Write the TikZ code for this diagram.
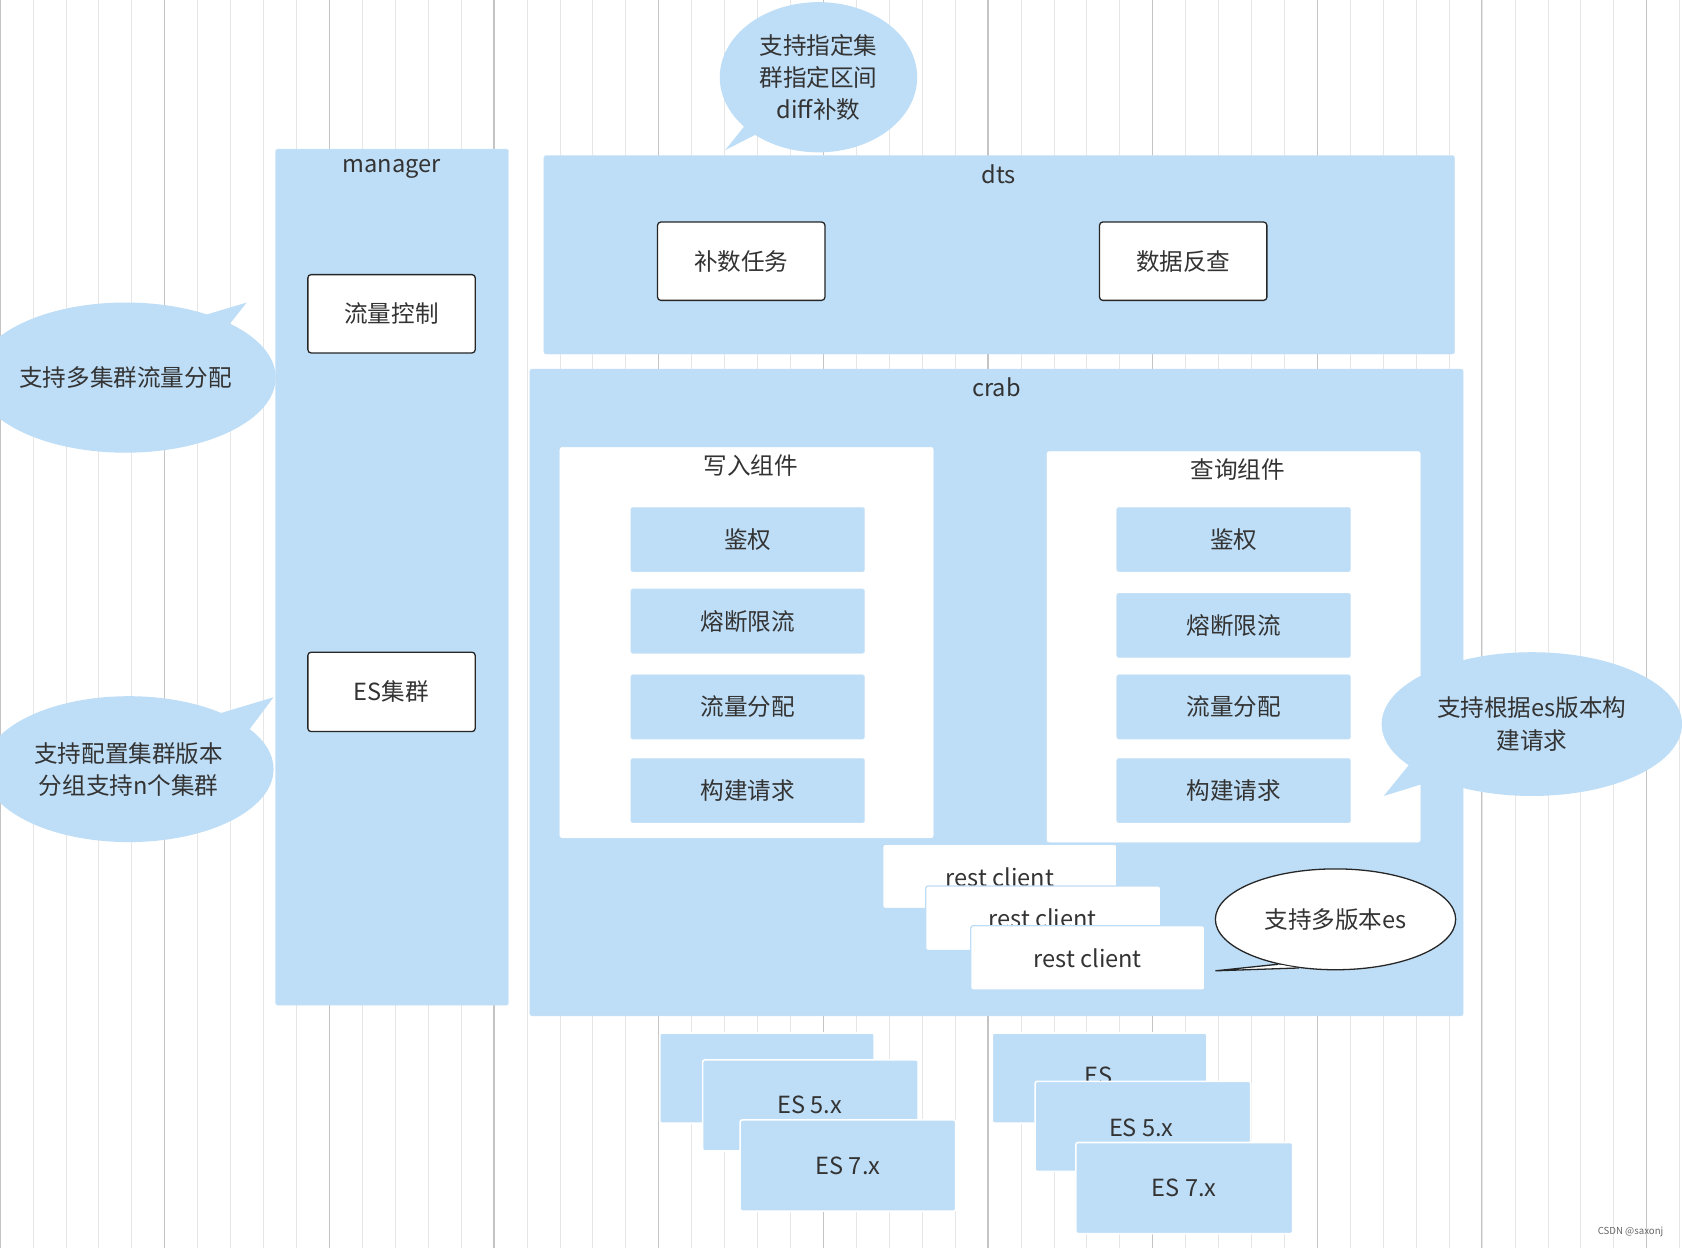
\documentclass[tikz,border=0pt]{standalone}
\usepackage{fontspec}
\setmainfont{Noto Sans CJK SC}
\usetikzlibrary{shapes.geometric}
\definecolor{lb}{HTML}{BEDDF6}
\definecolor{gridc}{HTML}{E6E6E6}
\definecolor{txt}{HTML}{333333}
\tikzset{
 cont/.style={fill=lb,draw=lb!80!white,rounded corners=2pt},
 wbox/.style={fill=white,draw=black!85,line width=1.2pt,rounded corners=3pt},
 pane/.style={fill=white,draw=white,rounded corners=2pt},
 bbox/.style={fill=lb,draw=lb!70!white,rounded corners=2pt},
 esb/.style={fill=lb,draw=white,line width=1.5pt,rounded corners=2pt},
 lbl/.style={text=txt,font=\fontsize{22}{28}\selectfont},
 bub/.style={ellipse,fill=lb,inner sep=0pt,text=txt,align=center,font=\fontsize{22}{30}\selectfont},
}
\begin{document}
\begin{tikzpicture}[x=1pt,y=-1pt]
\useasboundingbox (0,0) rectangle (1568,1163);
\fill[white] (0,0) rectangle (1568,1163);
\draw[gridc,line width=0.6pt] (0,0) grid[step=30.7] (1568,1163);
\draw[gridc!85!black,line width=1pt] (0,0) grid[step=153.5] (1568,1163);
% manager
\draw[cont] (257,139) rectangle (474,937);
\node[lbl] (mgr) at (365,157) {manager};
\draw[wbox] (287,256) rectangle node[lbl] (flk) {流量控制} (443,329);
\draw[wbox] (287,608) rectangle node[lbl] (esj) {ES集群} (443,682);
% dts
\draw[cont] (507,145) rectangle (1356,330);
\node[lbl] (dts) at (931,162) {dts};
\draw[wbox] (613,207) rectangle node[lbl] (bs) {补数任务} (769,280);
\draw[wbox] (1025,207) rectangle node[lbl] (fc) {数据反查} (1181,280);
% crab
\draw[cont] (494,344) rectangle (1364,947);
\node[lbl] (crab) at (929,361) {crab};
\draw[pane] (522,417) rectangle (870,781);
\node[lbl] (xr) at (700,434) {写入组件};
\draw[bbox] (588,473) rectangle node[lbl] (a1) {鉴权} (806,533);
\draw[bbox] (588,549) rectangle node[lbl] (a2) {熔断限流} (806,609);
\draw[bbox] (588,629) rectangle node[lbl] (a3) {流量分配} (806,689);
\draw[bbox] (588,707) rectangle node[lbl] (a4) {构建请求} (806,767);
\draw[pane] (976,421) rectangle (1324,785);
\node[lbl] (cx) at (1154,438) {查询组件};
\draw[bbox] (1041,473) rectangle node[lbl] (b1) {鉴权} (1259,533);
\draw[bbox] (1041,553) rectangle node[lbl] (b2) {熔断限流} (1259,613);
\draw[bbox] (1041,629) rectangle node[lbl] (b3) {流量分配} (1259,689);
\draw[bbox] (1041,707) rectangle node[lbl] (b4) {构建请求} (1259,767);
% rest clients
\draw[fill=white,draw=lb,line width=1.2pt,rounded corners=2pt] (823,787) rectangle (1041,847);
\node[lbl] (r1) at (932,818) {rest client};
\draw[fill=white,draw=lb,line width=1.2pt,rounded corners=2pt] (863,826) rectangle (1082,886);
\node[lbl] (r2) at (972,856) {rest client};
\draw[fill=white,draw=lb,line width=1.2pt,rounded corners=2pt] (905,863) rectangle (1123,923);
\node[lbl] (r3) at (1014,893) {rest client};
% white callout
\coordinate (wt) at (1133,905);
\node[ellipse,draw=black!85,line width=1.2pt,fill=white,minimum width=224pt,minimum height=94pt,text=txt,font=\fontsize{22}{28}\selectfont] (wc) at (1245,857) {支持多版本es};
\fill[white] (wc.233) -- (wt) -- (wc.220) -- cycle;
\draw[black!85,line width=1.2pt] (wc.233) -- (wt) -- (wc.218);
% bubbles
\coordinate (t1) at (676,140);
\fill[lb] (715,120) -- (t1) -- (700,110) -- cycle;
\node[bub,minimum width=184pt,minimum height=140pt] (q1) at (763,72) {支持指定集\\群指定区间\\diff补数};
\coordinate (t2) at (230,282);
\fill[lb] (170,300) -- (t2) -- (200,320) -- cycle;
\node[bub,minimum width=236pt,minimum height=140pt] (q2) at (117,352) {支持多集群流量分配};
\coordinate (t3) at (255,650);
\fill[lb] (195,668) -- (t3) -- (225,690) -- cycle;
\node[bub,minimum width=270pt,minimum height=136pt] (q3) at (120,717) {支持配置集群版本\\分组支持n个集群};
\coordinate (t4) at (1290,742);
\fill[lb] (1320,705) -- (t4) -- (1345,725) -- cycle;
\node[bub,minimum width=280pt,minimum height=134pt] (q4) at (1428,675) {支持根据es版本构\\建请求};
% ES groups
\draw[esb] (615,963) rectangle (815,1047);
\draw[esb] (655,988) rectangle (856,1073);
\node[lbl] (e2) at (755,1030) {ES 5.x};
\draw[esb] (690,1044) rectangle node[lbl] (e3) {ES 7.x} (891,1129);
\draw[esb] (925,963) rectangle (1125,1047);
\node[lbl] (f1) at (1024,1003) {ES};
\draw[esb] (965,1008) rectangle (1166,1092);
\node[lbl] (f2) at (1064,1051) {ES 5.x};
\draw[esb] (1003,1065) rectangle node[lbl] (f3) {ES 7.x} (1205,1150);
\node[text=black!60,font=\fontsize{9}{10}\selectfont] (wm) at (1520,1148) {CSDN @saxonj};
\end{tikzpicture}
\end{document}
